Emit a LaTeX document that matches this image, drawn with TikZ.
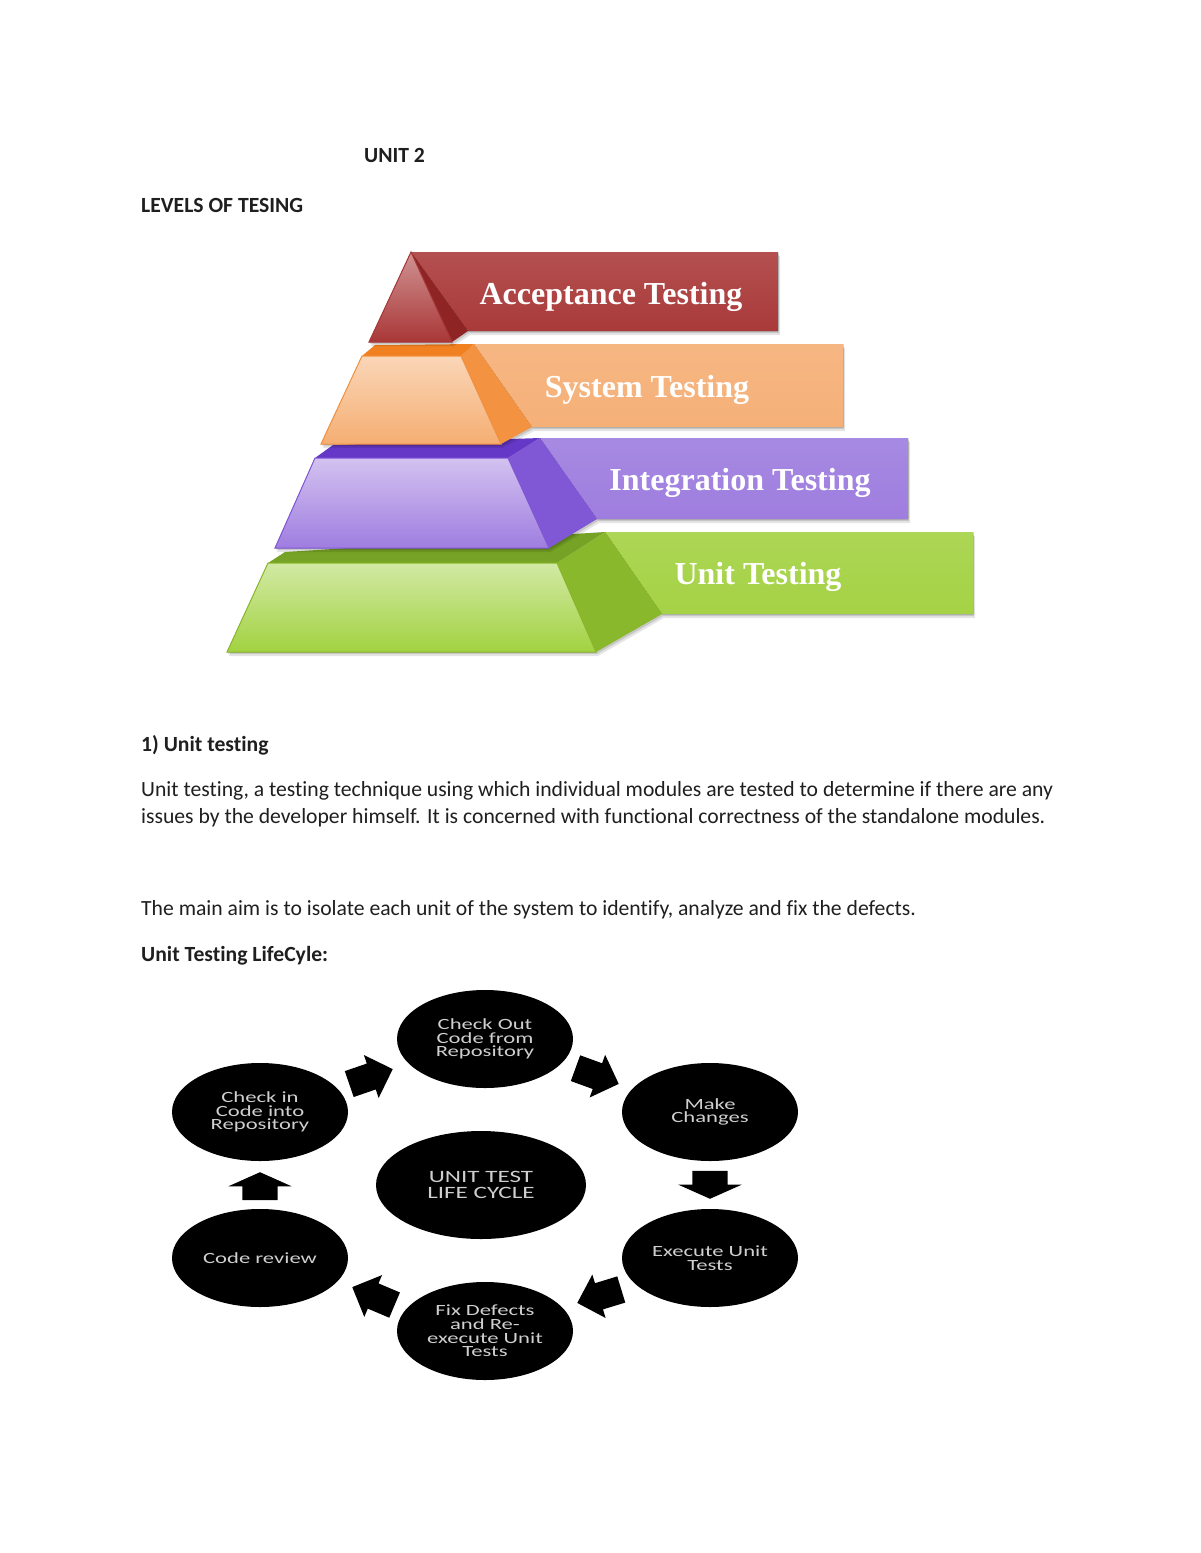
\documentclass[tikz,border=0pt]{standalone}
\usepackage{fontspec}
\setmainfont{Carlito}[Ligatures=NoCommon]
\newfontfamily\pyrfont{Liberation Serif}
\newfontfamily\cycfont{Carlito}[FakeStretch=1.45,Ligatures=NoCommon]
\usetikzlibrary{shapes.arrows,shapes.geometric}
\definecolor{cycletext}{HTML}{CFCFCF}
\definecolor{redbanA}{HTML}{B45050}\definecolor{redbanB}{HTML}{A93A3A}
\definecolor{redfrontA}{HTML}{D09292}\definecolor{redfrontB}{HTML}{A93737}
\definecolor{redside}{HTML}{8E2424}
\definecolor{orgbanA}{HTML}{F6B683}\definecolor{orgbanB}{HTML}{F5B078}
\definecolor{orgfrontA}{HTML}{FAD6B8}\definecolor{orgfrontB}{HTML}{F5AE72}
\definecolor{orgtop}{HTML}{F08020}\definecolor{orgside}{HTML}{F39240}
\definecolor{purbanA}{HTML}{A68AE2}\definecolor{purbanB}{HTML}{9F7DDF}
\definecolor{purfrontA}{HTML}{D3C2F0}\definecolor{purfrontB}{HTML}{9F7DE0}
\definecolor{purtop}{HTML}{6638C8}\definecolor{purside}{HTML}{8057D5}
\definecolor{grnbanA}{HTML}{ACD655}\definecolor{grnbanB}{HTML}{A5D245}
\definecolor{grnfrontA}{HTML}{D2E9A4}\definecolor{grnfrontB}{HTML}{A2D241}
\definecolor{grntop}{HTML}{76A325}\definecolor{grnside}{HTML}{8AB82C}
\newcommand{\softshadow}[1]{%
  \fill[black,opacity=.13,shift={(1pt,-2pt)}] #1;
  \fill[black,opacity=.10,shift={(2pt,-4pt)}] #1;}
\tikzset{
  doctext/.style={anchor=base west,inner sep=0pt,font=\fontsize{21.65}{26}\selectfont,text=black!88},
  docbold/.style={doctext,font=\fontsize{21.65}{26}\selectfont\bfseries},
  pyrlabel/.style={inner sep=0pt,text=white,font=\pyrfont\bfseries\fontsize{32}{36}\selectfont},
  cyc/.style={ellipse,fill=black,inner sep=0pt,minimum width=176pt,minimum height=98pt,text=cycletext,align=center,
    font=\cycfont\fontsize{15.6}{13.6}\selectfont},
  diagarrow/.style={single arrow,fill=black,inner xsep=0pt,inner ysep=13.5pt,minimum height=46pt,
    single arrow head extend=9pt,single arrow tip angle=90,anchor=tip},
  vertarrow/.style={single arrow,fill=black,inner xsep=0pt,inner ysep=17.5pt,minimum height=28pt,
    single arrow head extend=14pt,single arrow tip angle=132,anchor=tip},
}
\begin{document}
\begin{tikzpicture}[x=1pt,y=-1pt]
\useasboundingbox (0,0) rectangle (1200,1553);
\fill[white] (0,0) rectangle (1200,1553);

% page text
\node[docbold] (unit2) at (364,162) {UNIT 2};
\node[docbold] (levels) at (141,212) {LEVELS OF TESING};
\node[docbold] (h1) at (141,751) {1) Unit testing};
\node[doctext] (p1) at (141,796) {Unit testing, a testing technique using which individual modules are tested to determine if there are any};
\node[doctext] (p2) at (141,823) {issues by the developer himself. It is concerned with functional correctness of the standalone modules.};
\node[doctext] (p3) at (141,915) {The main aim is to isolate each unit of the system to identify, analyze and fix the defects.};
\node[docbold] (h2) at (141,961) {Unit Testing LifeCyle:};

% Unit level
\softshadow{(605,532)--(973,532)--(973,614)--(662,614)--(596,652)--(227,652)--(268,563)--cycle}
\fill[top color=grnbanA,bottom color=grnbanB] (605,532)--(973,532)--(973,614)--(662,614)--cycle;
\fill[grntop] (285,552)--(605,532)--(557,563)--(268,563)--cycle;
\fill[grnside] (557,563)--(605,532)--(662,614)--(596,652)--cycle;
\filldraw[draw=grnside,line width=1pt,top color=grnfrontA,bottom color=grnfrontB] (268,563)--(557,563)--(596,652)--(227,652)--cycle;
\node[pyrlabel] (lunit) at (758,577) {Unit Testing};

% Integration level
\softshadow{(540,438)--(908,438)--(908,519)--(597,519)--(549,548)--(275,548)--(315,458)--cycle}
\fill[top color=purbanA,bottom color=purbanB] (540,438)--(908,438)--(908,519)--(597,519)--cycle;
\fill[purtop] (333,445)--(540,438)--(508,458)--(315,458)--cycle;
\fill[purside] (508,458)--(540,438)--(597,519)--(549,548)--cycle;
\filldraw[draw=purside,line width=1pt,top color=purfrontA,bottom color=purfrontB] (315,458)--(508,458)--(549,548)--(275,548)--cycle;
\node[pyrlabel] (lint) at (740,483) {Integration Testing};

% System level
\softshadow{(474,344)--(843,344)--(843,427)--(532,427)--(501,444)--(321,444)--(362,356)--cycle}
\fill[top color=orgbanA,bottom color=orgbanB] (474,344)--(843,344)--(843,427)--(532,427)--cycle;
\fill[orgtop] (375,345)--(474,344)--(461,356)--(362,356)--cycle;
\fill[orgside] (461,356)--(474,344)--(532,427)--(501,444)--cycle;
\filldraw[draw=orgside,line width=1pt,top color=orgfrontA,bottom color=orgfrontB] (362,356)--(461,356)--(501,444)--(321,444)--cycle;
\node[pyrlabel] (lsys) at (647,390) {System Testing};

% Acceptance level
\softshadow{(411,252)--(778,252)--(778,331)--(468,331)--(452,342)--(369,342)--cycle}
\fill[top color=redbanA,bottom color=redbanB] (411,252)--(778,252)--(778,331)--(468,331)--cycle;
\fill[redside] (411,252)--(468,331)--(452,342)--cycle;
\filldraw[draw=redfrontB,line width=1pt,top color=redfrontA,bottom color=redfrontB] (411,252)--(452,342)--(369,342)--cycle;
\node[pyrlabel] (lacc) at (611,297) {Acceptance Testing};

% life cycle
\node[cyc] (out) at (485,1039) {Check Out\\Code from\\Repository};
\node[cyc] (make) at (710,1112) {Make\\Changes};
\node[cyc] (exec) at (710,1258) {Execute Unit\\Tests};
\node[cyc] (fix) at (485,1331) {Fix Defects\\and Re-\\execute Unit\\Tests};
\node[cyc] (rev) at (260,1258) {Code review};
\node[cyc] (in) at (260,1112) {Check in\\Code into\\Repository};
\node[cyc,minimum width=210pt,minimum height=108pt,font=\cycfont\fontsize{17.3}{16}\selectfont] (mid) at (481,1185) {UNIT TEST\\LIFE CYCLE};

\node[diagarrow,rotate=19] (a1) at (393,1069) {};
\node[diagarrow,rotate=-20] (a2) at (619,1084) {};
\node[vertarrow,rotate=-90] (a3) at (710,1199) {};
\node[diagarrow,rotate=197] (a4) at (577,1303) {};
\node[diagarrow,rotate=157] (a5) at (352,1287) {};
\node[vertarrow,rotate=90] (a6) at (260,1172) {};
\end{tikzpicture}
\end{document}
